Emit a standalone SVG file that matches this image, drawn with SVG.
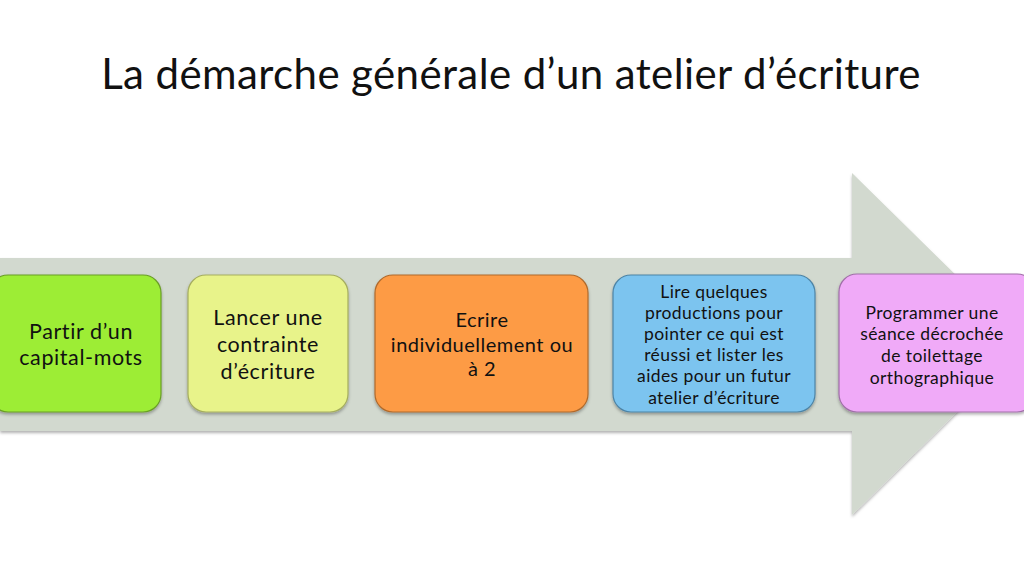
<svg xmlns="http://www.w3.org/2000/svg" width="1024" height="576" viewBox="0 0 1024 576">
<style>
text{font-family:Lato,"Open Sans","Liberation Sans",sans-serif;fill:#111;text-anchor:middle}
.t{font-size:42px;letter-spacing:0.4px}
.b1{font-size:21.5px;letter-spacing:0.6px}
.b3{font-size:20px;letter-spacing:0.5px}
.b4{font-size:17.5px;letter-spacing:0.4px}
.box{stroke-width:1.2}
</style>
<defs>
<filter id="sh" x="-10%" y="-10%" width="120%" height="130%">
<feDropShadow dx="0" dy="2" stdDeviation="1.5" flood-color="#000" flood-opacity="0.3"/>
</filter>
</defs>
<rect width="1024" height="576" fill="#fff"/>
<text class="t" x="511" y="89">La démarche générale d’un atelier d’écriture</text>
<g id="arrow">
<path d="M0,258 H852 V173 L1026,344 L852,515 V431 H0 Z" fill="#d2d9cf" filter="url(#sh)"/>
</g>
<g id="n1">
<rect class="box" x="-10" y="275" width="171" height="137" rx="18" fill="#9ded35" stroke="#6a9e26" filter="url(#sh)"/>
<text class="b1" x="81" y="339">Partir d’un</text>
<text class="b1" x="81" y="365">capital-mots</text>
</g>
<g id="n2">
<rect class="box" x="188" y="275" width="160" height="137" rx="18" fill="#e8f38a" stroke="#a5ad5e" filter="url(#sh)"/>
<text class="b1" x="268" y="325">Lancer une</text>
<text class="b1" x="268" y="352">contrainte</text>
<text class="b1" x="268" y="379">d’écriture</text>
</g>
<g id="n3">
<rect class="box" x="375" y="275" width="213" height="137" rx="18" fill="#fd9b45" stroke="#b06a2c" filter="url(#sh)"/>
<text class="b3" x="482" y="327">Ecrire</text>
<text class="b3" x="482" y="352">individuellement ou</text>
<text class="b3" x="482" y="376">à 2</text>
</g>
<g id="n4">
<rect class="box" x="613" y="275" width="202" height="137" rx="18" fill="#7cc4ef" stroke="#4d84a6" filter="url(#sh)"/>
<text class="b4" x="714" y="298">Lire quelques</text>
<text class="b4" x="714" y="319">productions pour</text>
<text class="b4" x="714" y="340">pointer ce qui est</text>
<text class="b4" x="714" y="361">réussi et lister les</text>
<text class="b4" x="714" y="382">aides pour un futur</text>
<text class="b4" x="714" y="404">atelier d’écriture</text>
</g>
<g id="n5">
<rect class="box" x="839" y="274" width="196" height="138" rx="18" fill="#f0aaf8" stroke="#a070a8" filter="url(#sh)"/>
<text class="b4" x="932" y="319">Programmer une</text>
<text class="b4" x="932" y="340">séance décrochée</text>
<text class="b4" x="932" y="362">de toilettage</text>
<text class="b4" x="932" y="384">orthographique</text>
</g>
<g id="connectors"></g>
</svg>
